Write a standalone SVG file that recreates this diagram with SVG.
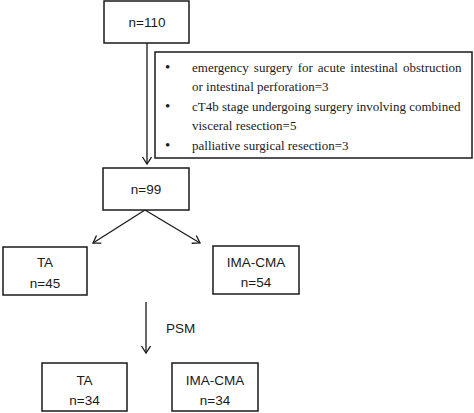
<svg xmlns="http://www.w3.org/2000/svg" width="474" height="413" viewBox="0 0 474 413">
<style>
.box{fill:#fff;stroke:#1a1a1a;stroke-width:1.5}
.t{font-family:"Liberation Sans",Arial,sans-serif;font-size:13.5px;fill:#1a1a1a;text-anchor:middle}
.s{font-size:13px;fill:#1a1a1a}
.b{font-size:15px;fill:#1a1a1a}
.c{fill:none;stroke:#1a1a1a;stroke-width:1.3}
</style>
<defs>
<marker id="ah" markerUnits="userSpaceOnUse" markerWidth="12" markerHeight="12" refX="8" refY="5" orient="auto" viewBox="0 0 12 12">
<path d="M1,0.5 L8,5 L1,9.5" fill="none" stroke="#1a1a1a" stroke-width="1.3"/>
</marker>
</defs>
<g id="connectors">
<line class="c" x1="147" y1="43" x2="147" y2="164" marker-end="url(#ah)"/>
<line class="c" x1="145" y1="210" x2="93" y2="243" marker-end="url(#ah)"/>
<line class="c" x1="145" y1="210" x2="200" y2="243" marker-end="url(#ah)"/>
<line class="c" x1="146" y1="302" x2="146" y2="353" marker-end="url(#ah)"/>
</g>
<g id="n110">
<rect class="box" x="104" y="1" width="85" height="42"/>
<text class="t" x="147" y="27">n=110</text>
</g>
<g id="exclusion" font-family="'Liberation Serif', 'Times New Roman', serif">
<rect class="box" x="155" y="52" width="317" height="106"/>
<text class="b" x="165" y="72">•</text>
<text class="s" x="192" y="72" word-spacing="1.8">emergency surgery for acute intestinal obstruction</text>
<text class="s" x="192" y="91">or intestinal perforation=3</text>
<text class="b" x="165" y="111">•</text>
<text class="s" x="192" y="111">cT4b stage undergoing surgery involving combined</text>
<text class="s" x="192" y="130">visceral resection=5</text>
<text class="b" x="165" y="150">•</text>
<text class="s" x="192" y="150">palliative surgical resection=3</text>
</g>
<g id="n99">
<rect class="box" x="103" y="168" width="86" height="42"/>
<text class="t" x="146" y="194">n=99</text>
</g>
<g id="ta1">
<rect class="box" x="3" y="247" width="84" height="48"/>
<text class="t" x="45" y="267">TA</text>
<text class="t" x="45" y="288">n=45</text>
</g>
<g id="ima1">
<rect class="box" x="213" y="246" width="86" height="48"/>
<text class="t" x="256" y="267">IMA-CMA</text>
<text class="t" x="256" y="287">n=54</text>
</g>
<text class="t" x="166" y="333" style="text-anchor:start">PSM</text>
<g id="ta2">
<rect class="box" x="42" y="363" width="85" height="48"/>
<text class="t" x="84.5" y="385">TA</text>
<text class="t" x="84.5" y="405">n=34</text>
</g>
<g id="ima2">
<rect class="box" x="172" y="363" width="86" height="48"/>
<text class="t" x="215" y="385">IMA-CMA</text>
<text class="t" x="215" y="405">n=34</text>
</g>
</svg>
